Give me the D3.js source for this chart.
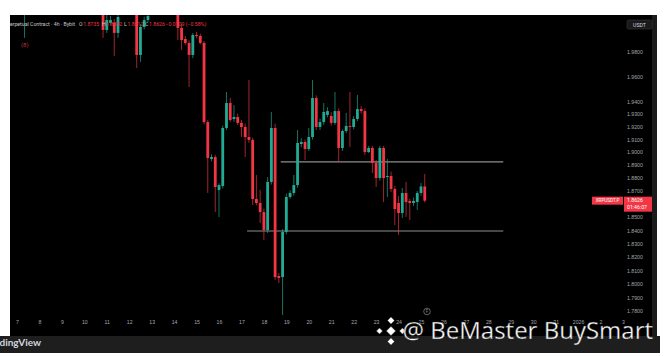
<!DOCTYPE html>
<html>
<head>
<meta charset="utf-8">
<script src="https://cdn.jsdelivr.net/npm/d3@7"></script>
<style>
body { margin: 0; background: #fff; }
svg { display: block; font-family: Roboto, "Liberation Sans", sans-serif; }
</style>
</head>
<body>
<script>
// 4h candles, first one at Dec 10 20:00
var firstTime = new Date(2025, 11, 10, 20);
var opens  = [2.0145,1.9980,2.0038,2.0038,1.9956,2.0120,2.0200,2.0250,2.0210,2.0160,1.9776,2.0005,2.0062,2.0125,2.0180,2.0230,2.0290,2.0250,2.0200,2.0230,2.0150,1.9997,1.9906,1.9874,1.9776,1.9939,1.9931,1.9874,1.9238,1.8948,1.8963,1.8708,1.8739,1.9191,1.9389,1.9262,1.9278,1.9231,1.9199,1.9120,1.9097,1.8639,1.8608,1.8539,1.8403,1.8770,1.9191,1.8058,1.8050,1.8388,1.8654,1.8685,1.8746,1.9065,1.9081,1.9026,1.9120,1.9429,1.9199,1.9238,1.9294,1.9286,1.9231,1.9325,1.9034,1.9167,1.9207,1.9199,1.9262,1.9341,1.9325,1.9002,1.9034,1.8917,1.8800,1.9034,1.8808,1.8816,1.8716,1.8608,1.8532,1.8685,1.8624,1.8608,1.8616,1.8685,1.8735];
var highs  = [2.0180,2.0112,2.0095,2.0070,2.0160,2.0240,2.0290,2.0310,2.0260,2.0220,2.0030,2.0090,2.0130,2.0200,2.0260,2.0320,2.0340,2.0300,2.0270,2.0250,2.0190,2.0030,1.9930,1.9895,1.9955,1.9965,1.9950,1.9890,1.9255,1.8985,1.8980,1.8760,1.9210,1.9477,1.9430,1.9373,1.9305,1.9255,1.9225,1.9573,1.9115,1.8824,1.8708,1.8565,1.8808,1.9318,1.9225,1.8080,1.8410,1.8680,1.8705,1.8824,1.9175,1.9110,1.9100,1.9191,1.9573,1.9450,1.9265,1.9389,1.9355,1.9315,1.9477,1.9345,1.9180,1.9310,1.9477,1.9285,1.9453,1.9365,1.9345,1.9050,1.9050,1.8940,1.9050,1.9050,1.8948,1.8850,1.8740,1.8662,1.8723,1.8770,1.8640,1.8650,1.8700,1.8762,1.8832];
var lows   = [1.9915,1.9956,2.0021,1.9768,1.9915,2.0110,2.0170,2.0190,2.0140,1.9670,1.9719,1.9985,2.0045,2.0112,2.0150,2.0210,2.0220,2.0180,2.0150,2.0130,1.9898,1.9816,1.9860,1.9517,1.9750,1.9912,1.9862,1.9220,1.8685,1.8930,1.8539,1.8501,1.8720,1.9175,1.9240,1.9240,1.9215,1.9120,1.8963,1.9075,1.8593,1.8590,1.8456,1.8327,1.8380,1.8750,1.8030,1.8006,1.7771,1.8370,1.8640,1.8665,1.8725,1.9040,1.8940,1.9010,1.9100,1.9175,1.9175,1.9215,1.9275,1.9210,1.9215,1.8925,1.9010,1.9150,1.9042,1.9180,1.9245,1.9305,1.8980,1.8995,1.8839,1.8731,1.8780,1.8616,1.8654,1.8693,1.8440,1.8365,1.8494,1.8501,1.8478,1.8585,1.8555,1.8665,1.8612];
var closes = [1.9980,2.0062,2.0062,1.9956,2.0087,2.0200,2.0250,2.0210,2.0160,1.9776,2.0005,2.0062,2.0095,2.0180,2.0230,2.0290,2.0250,2.0200,2.0230,2.0150,1.9997,1.9898,1.9874,1.9776,1.9939,1.9931,1.9874,1.9238,1.8956,1.8963,1.8731,1.8746,1.9191,1.9389,1.9254,1.9278,1.9231,1.9199,1.9120,1.9097,1.8639,1.8608,1.8539,1.8403,1.8770,1.9191,1.8050,1.8043,1.8388,1.8654,1.8685,1.8746,1.9073,1.9081,1.9026,1.9120,1.9429,1.9199,1.9238,1.9318,1.9325,1.9231,1.9325,1.9034,1.9167,1.9207,1.9199,1.9262,1.9341,1.9325,1.9002,1.9034,1.8917,1.8800,1.9034,1.8800,1.8816,1.8716,1.8562,1.8532,1.8685,1.8616,1.8608,1.8624,1.8685,1.8735,1.8626];

// lone earlier candle, mostly above the visible range
var earlyCandle = {t: new Date(2025, 11, 7, 8), o: 2.0130, h: 2.0220, l: 1.9915, c: 2.0190};

var priceTicks = [1.98, 1.96, 1.94, 1.93, 1.92, 1.91, 1.90, 1.89, 1.88, 1.87, 1.85, 1.84, 1.83, 1.82, 1.81, 1.80, 1.79, 1.78];
var levels = [
  {price: 1.8925, from: new Date(2025, 11, 18, 18), to: new Date(2025, 11, 28, 16)},
  {price: 1.8395, from: new Date(2025, 11, 17, 6), to: new Date(2025, 11, 28, 16)}
];
var header = {name: "XRPUSDT Perpetual Contract · 4h · Bybit", o: "1.8735", h: "1.8832", l: "1.8612", c: "1.8626", chg: "−0.0109 (−0.58%)"};
var ticker = "XRPUSDT.P", countdown = "01:46:07";

var up = "#22ab94", down = "#f23645";

var data = opens.map(function(o, i) {
  return {t: new Date(firstTime.getTime() + i * 4 * 3600 * 1000), o: o, h: highs[i], l: lows[i], c: closes[i]};
});
data.unshift(earlyCandle);

var svg = d3.select("body").append("svg")
    .attr("width", 667)
    .attr("height", 356);

// panel + bottom bar
svg.append("rect").attr("x", 10).attr("y", 15).attr("width", 647).attr("height", 321).attr("fill", "#000");
svg.append("rect").attr("x", 652).attr("y", 15).attr("width", 5).attr("height", 321).attr("fill", "#1b1b1b");
svg.append("rect").attr("x", 0).attr("y", 336).attr("width", 660).attr("height", 17).attr("fill", "#1e1e1e");

var x = d3.scaleTime()
    .domain([new Date(2025, 11, 7), new Date(2026, 0, 3)])
    .range([17, 623]);
var y = d3.scaleLog()
    .domain([1.78, 1.98])
    .range([311, 52]);

svg.append("defs").append("clipPath").attr("id", "plot")
  .append("rect").attr("x", 10).attr("y", 15).attr("width", 580).attr("height", 303);

var plot = svg.append("g").attr("clip-path", "url(#plot)");

// support / resistance lines
plot.selectAll(".level")
    .data(levels)
  .enter().append("line")
    .attr("class", "level")
    .attr("x1", function(d) { return x(d.from); })
    .attr("x2", function(d) { return x(d.to); })
    .attr("y1", function(d) { return y(d.price); })
    .attr("y2", function(d) { return y(d.price); })
    .attr("stroke", "#8d8d8d")
    .attr("stroke-width", 1.2);

var candle = plot.selectAll(".candle")
    .data(data)
  .enter().append("g")
    .attr("class", "candle");

candle.append("line")
    .attr("x1", function(d) { return x(d.t); })
    .attr("x2", function(d) { return x(d.t); })
    .attr("y1", function(d) { return y(d.h); })
    .attr("y2", function(d) { return y(d.l); })
    .attr("stroke", function(d) { return d.c >= d.o ? up : down; })
    .attr("stroke-opacity", 0.75)
    .attr("stroke-width", 0.9);

candle.append("rect")
    .attr("x", function(d) { return x(d.t) - 1.4; })
    .attr("width", 2.8)
    .attr("y", function(d) { return y(Math.max(d.o, d.c)); })
    .attr("height", function(d) { return Math.max(1, y(Math.min(d.o, d.c)) - y(Math.max(d.o, d.c))); })
    .attr("fill", function(d) { return d.c >= d.o ? up : down; });

// price axis
var yAxis = svg.append("g")
    .attr("transform", "translate(627,0)")
    .call(d3.axisRight(y).tickValues(priceTicks).tickSize(0).tickFormat(d3.format(".4f")));
yAxis.select(".domain").remove();
yAxis.selectAll("text")
    .attr("x", 0)
    .attr("fill", "#a3a6ad")
    .style("font-size", "5.2px");

// time axis
var xAxis = svg.append("g")
    .attr("transform", "translate(0,318)")
    .call(d3.axisBottom(x).ticks(d3.timeDay.every(1)).tickSize(0).tickFormat(function(d) {
      return d.getDate() == 1 ? d3.timeFormat("%Y")(d) : d.getDate();
    }));
xAxis.select(".domain").remove();
xAxis.selectAll("text")
    .attr("y", 2.5)
    .attr("fill", "#a3a6ad")
    .style("font-size", "5.2px");

// last price tag
var ly = y(closes[closes.length - 1]);
svg.append("rect").attr("x", 592).attr("y", ly - 4).attr("width", 31).attr("height", 8).attr("fill", down);
svg.append("text").attr("x", 607.5).attr("y", ly + 1.8).attr("text-anchor", "middle")
    .attr("fill", "#fff").style("font-size", "4.6px").text(ticker);
svg.append("rect").attr("x", 624).attr("y", ly - 4).attr("width", 28).attr("height", 15).attr("fill", down);
svg.append("text").attr("x", 627).attr("y", ly + 1.8)
    .attr("fill", "#fff").style("font-size", "5.2px").text(d3.format(".4f")(closes[closes.length - 1]));
svg.append("text").attr("x", 627).attr("y", ly + 8.5)
    .attr("fill", "#fff").style("font-size", "5.2px").text(countdown);

// currency box
svg.append("rect").attr("x", 627).attr("y", 20).attr("width", 25).attr("height", 9).attr("rx", 1.5)
    .attr("fill", "#1a1a1a").attr("stroke", "#3a3a3a").attr("stroke-width", 0.6);
svg.append("text").attr("x", 639.5).attr("y", 26.6).attr("text-anchor", "middle")
    .attr("fill", "#d1d4dc").style("font-size", "5.2px").text("USDT");

// legend line
var legend = svg.append("g").attr("clip-path", "url(#plot)").style("font-size", "5.2px");
legend.append("text").attr("x", 75).attr("y", 26).attr("text-anchor", "end")
    .attr("fill", "#c3c6cd").text(header.name);
var hl = legend.append("text").attr("y", 26);
[["O", header.o, 79], ["H", header.h, 102], ["L", header.l, 124], ["C", header.c, 145], ["", header.chg, 169]].forEach(function(p) {
  hl.append("tspan").attr("x", p[2]).attr("fill", "#c3c6cd").text(p[0]);
  hl.append("tspan").attr("dx", 0.6).attr("fill", down).text(p[1]);
});
svg.append("text").attr("x", 21).attr("y", 46.5).attr("fill", "#c0303c")
    .style("font-size", "6px").text("(8)");

// indicator marker under the last candles
svg.append("circle").attr("cx", 427).attr("cy", 311.5).attr("r", 3.3)
    .attr("fill", "none").attr("stroke", "#8a8a8a").attr("stroke-width", 0.7);
svg.append("text").attr("x", 427).attr("y", 313.3).attr("text-anchor", "middle")
    .attr("fill", "#8a8a8a").style("font-size", "4.5px").text("F");

// TradingView footer
svg.append("text").attr("x", 41).attr("y", 346).attr("text-anchor", "end")
    .attr("fill", "#d1d4dc").style("font-size", "10px").style("font-weight", "bold")
    .style("font-family", "Lato, sans-serif").text("TradingView");

// watermark
var wm = svg.append("g");
var dia = [[391, 331, 4.6], [379.5, 331, 3], [402.5, 331, 3], [391, 320.5, 3.4], [391, 341.5, 3.4]];
wm.selectAll("path.dia")
    .data(dia)
  .enter().append("path")
    .attr("class", "dia")
    .attr("d", function(d) {
      return "M" + d[0] + "," + (d[1] - d[2]) + "L" + (d[0] + d[2]) + "," + d[1] + "L" + d[0] + "," + (d[1] + d[2]) + "L" + (d[0] - d[2]) + "," + d[1] + "Z";
    })
    .attr("fill", "#fff")
    .attr("stroke", "#555")
    .attr("stroke-width", 0.4);
wm.append("text").attr("x", 653).attr("y", 338.5).attr("text-anchor", "end")
    .attr("fill", "#fff").attr("stroke", "#333").attr("stroke-width", 0.4)
    .style("font-family", "'Open Sans', sans-serif").style("font-size", "24px")
    .text("@ BeMaster BuySmart");
</script>
</body>
</html>
